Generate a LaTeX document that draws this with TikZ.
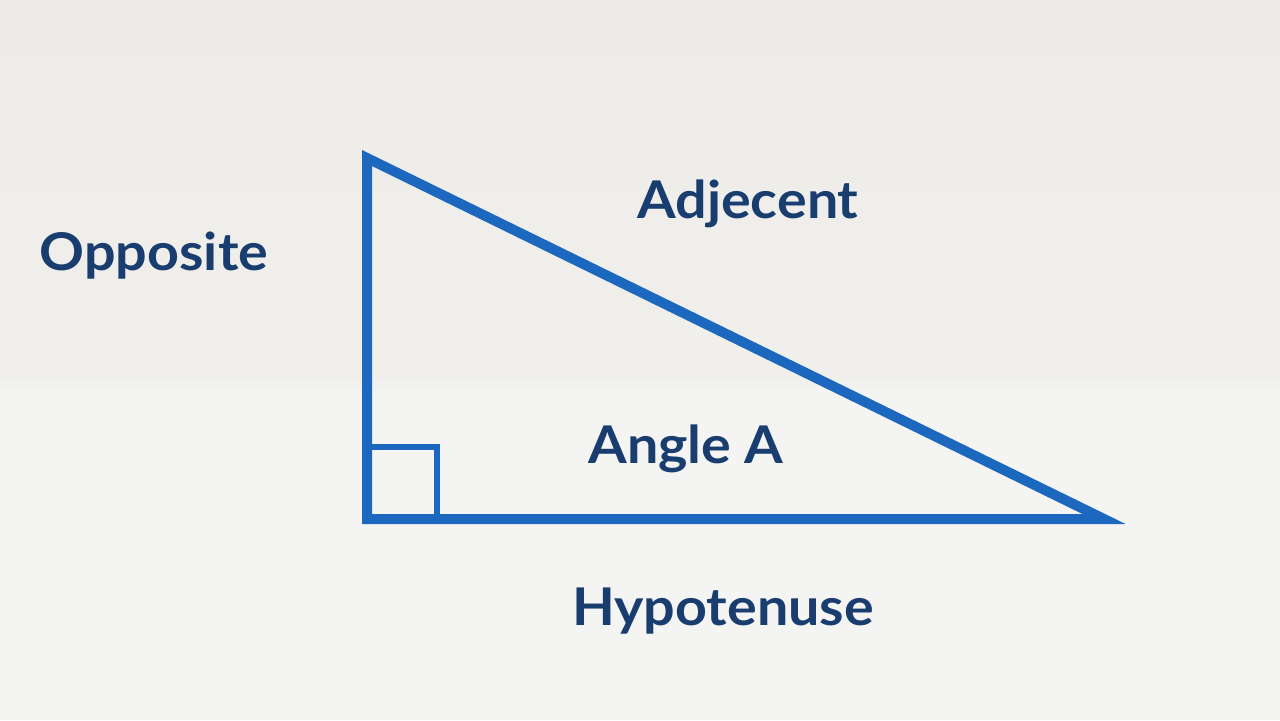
\documentclass[tikz,border=0pt]{standalone}
\usepackage{fontspec}
\setmainfont{Lato}[FakeStretch=1.07]
\definecolor{bgtop}{HTML}{EDECE9}
\definecolor{bgmid}{HTML}{F0EFEC}
\definecolor{bglow}{HTML}{F4F4F3}
\definecolor{lineblue}{HTML}{1D68BF}
\definecolor{navy}{HTML}{183D6E}
\tikzset{
  lbl/.style={anchor=base, inner sep=0pt, text=navy, font=\fontsize{26}{30}\selectfont\bfseries},
  tri/.style={draw=lineblue, line width=5pt, line join=miter},
  rightmark/.style={draw=lineblue, line width=3pt}
}
\begin{document}
\begin{tikzpicture}[x=0.5pt, y=-0.5pt]
\useasboundingbox (0,0) rectangle (1280,720);
\fill[bglow] (0,0) rectangle (1280,720);
\shade[top color=bgtop, bottom color=bgmid] (0,0) rectangle (1280,376);
\shade[top color=bgmid, bottom color=bglow] (0,376) rectangle (1280,392);
% triangle
\coordinate (A) at (367,158);
\coordinate (B) at (367,519);
\coordinate (C) at (1104,519);
\draw[tri] (A) -- (B) -- (C) -- cycle;
% right-angle mark
\coordinate (S1) at (367,447);
\coordinate (S2) at (437,447);
\coordinate (S3) at (437,519);
\draw[rightmark] (S1) -- (S2) -- (S3);
% labels
\node[lbl] (opp) at (154,270) {Opposite};
\node[lbl] (adj) at (748,218) {Adjecent};
\node[lbl] (ang) at (686,463) {Angle A};
\node[lbl] (hyp) at (723,625) {Hypotenuse};
\end{tikzpicture}
\end{document}
